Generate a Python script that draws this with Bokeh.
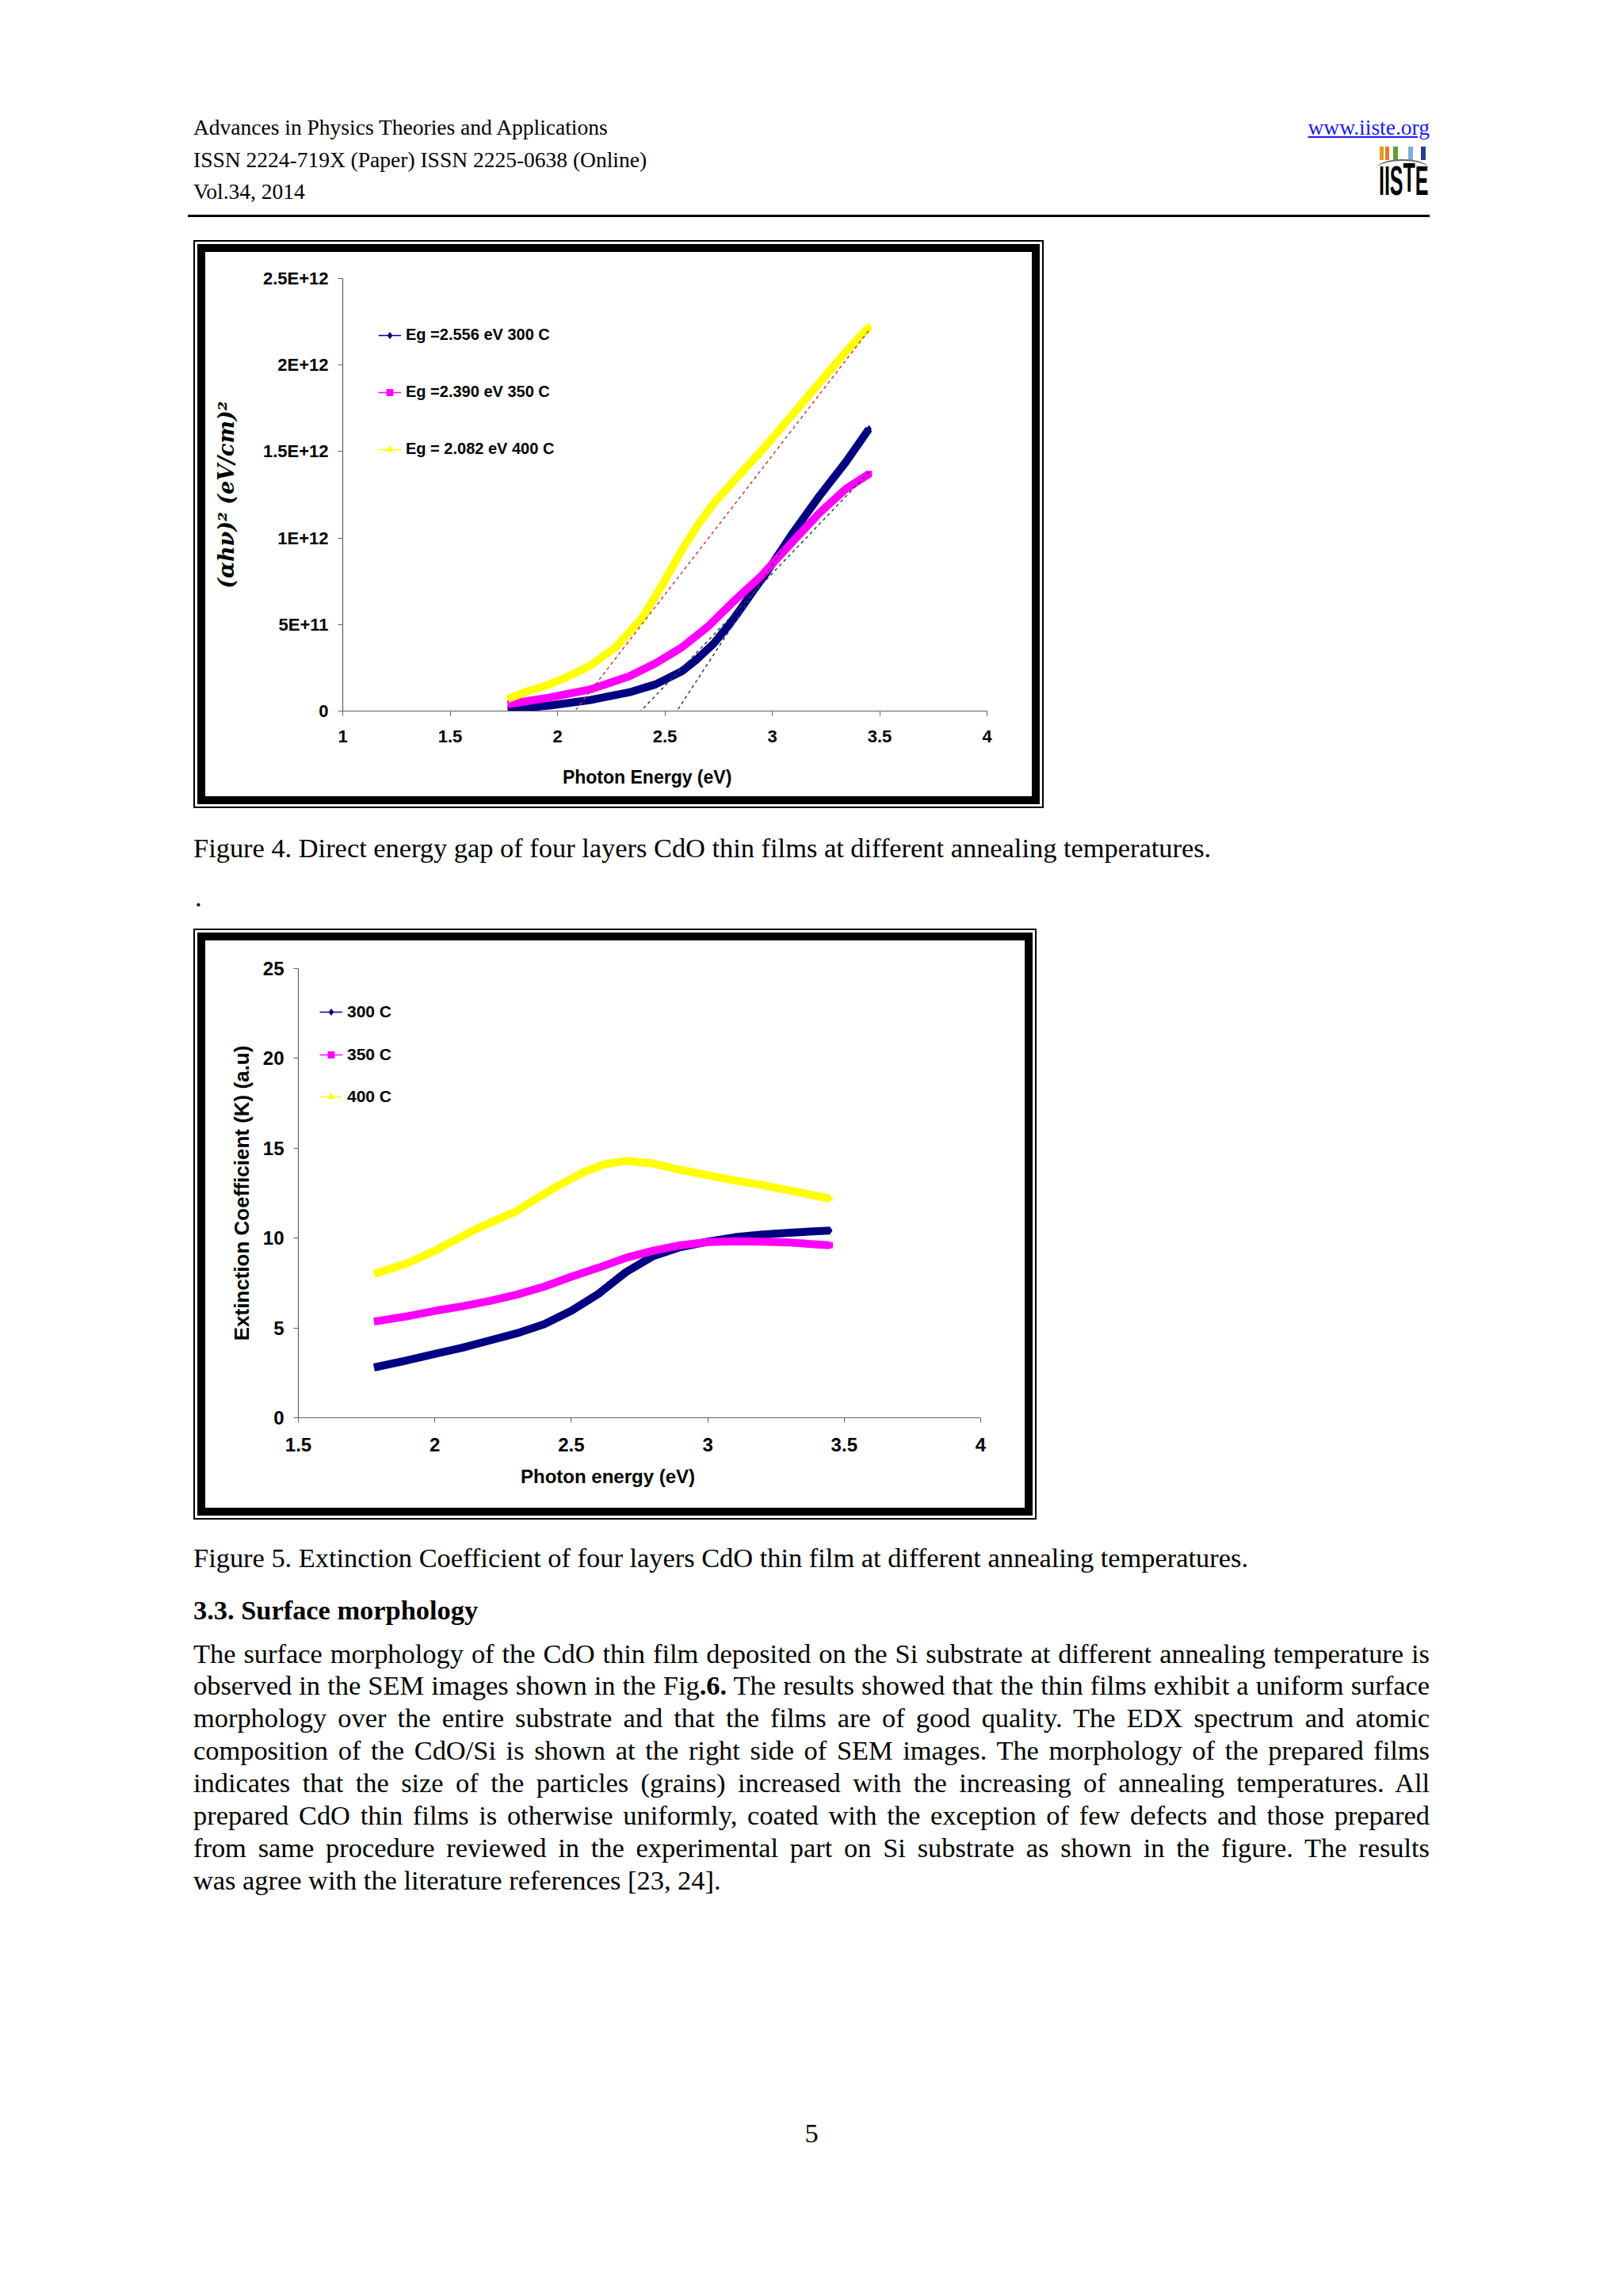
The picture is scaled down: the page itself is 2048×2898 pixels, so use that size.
from bokeh.plotting import figure
from bokeh.models import Div, Range1d, FixedTicker, Legend, LegendItem
from bokeh.embed import file_html
from bokeh.resources import INLINE

# ---------------- Figure 4 data: photon energy (eV) vs (alpha h nu)^2 in units of 1E+12 (eV/cm)^2
f4_x_300 = [1.768, 1.964, 2.149, 2.333, 2.456, 2.579, 2.65, 2.727, 2.80, 2.85, 2.92, 2.973, 3.096, 3.219, 3.342, 3.45]
f4_y_300 = [0.01, 0.032, 0.063, 0.108, 0.154, 0.23, 0.30, 0.39, 0.50, 0.585, 0.71, 0.80, 1.03, 1.242, 1.438, 1.63]
f4_x_350 = [1.768, 1.964, 2.149, 2.333, 2.456, 2.579, 2.702, 2.825, 2.948, 3.096, 3.219, 3.342, 3.45]
f4_y_350 = [0.04, 0.078, 0.124, 0.20, 0.276, 0.368, 0.49, 0.64, 0.78, 0.98, 1.144, 1.283, 1.37]
f4_x_400 = [1.768, 1.85, 1.964, 2.05, 2.149, 2.272, 2.395, 2.493, 2.579, 2.65, 2.727, 2.85, 2.973, 3.096, 3.219, 3.342, 3.45]
f4_y_400 = [0.07, 0.11, 0.155, 0.20, 0.26, 0.37, 0.54, 0.74, 0.93, 1.07, 1.20, 1.37, 1.537, 1.716, 1.896, 2.076, 2.22]
# linear extrapolation lines drawn in the figure (end points)
fit_x_300 = [2.545, 3.05]
fit_y_300 = [-0.02, 0.94]
fit_x_350 = [2.38, 3.45]
fit_y_350 = [-0.01, 1.38]
fit_x_400 = [2.05, 3.45]
fit_y_400 = [-0.05, 2.20]
f4_labels = ["Eg =2.556 eV 300 C", "Eg =2.390 eV 350 C", "Eg = 2.082 eV 400 C"]
f4_x_ticks = [1, 1.5, 2, 2.5, 3, 3.5, 4]
f4_y_ticks = [0, 0.5, 1.0, 1.5, 2.0, 2.5]
f4_y_tick_labels = ["0", "5E+11", "1E+12", "1.5E+12", "2E+12", "2.5E+12"]

# ---------------- Figure 5 data: photon energy (eV) vs extinction coefficient K
f5_x_300 = [1.777, 1.9, 2.0, 2.1, 2.2, 2.3, 2.4, 2.5, 2.6, 2.7, 2.8, 2.9, 3.0, 3.1, 3.2, 3.3, 3.447]
f5_y_300 = [2.8, 3.2, 3.55, 3.9, 4.3, 4.7, 5.2, 5.95, 6.9, 8.1, 9.0, 9.5, 9.8, 10.05, 10.2, 10.3, 10.42]
f5_x_350 = [1.777, 1.9, 2.0, 2.1, 2.2, 2.3, 2.4, 2.5, 2.6, 2.7, 2.8, 2.9, 3.0, 3.1, 3.2, 3.3, 3.447]
f5_y_350 = [5.35, 5.65, 5.95, 6.2, 6.5, 6.85, 7.3, 7.85, 8.35, 8.9, 9.3, 9.6, 9.78, 9.82, 9.8, 9.75, 9.6]
f5_x_400 = [1.777, 1.9, 2.0, 2.15, 2.3, 2.35, 2.45, 2.55, 2.62, 2.7, 2.8, 2.9, 3.0, 3.1, 3.2, 3.3, 3.447]
f5_y_400 = [8.0, 8.6, 9.3, 10.5, 11.5, 12.0, 12.9, 13.7, 14.1, 14.3, 14.15, 13.8, 13.5, 13.2, 12.95, 12.65, 12.2]
f5_labels = ["300 C", "350 C", "400 C"]
f5_x_ticks = [1.5, 2, 2.5, 3, 3.5, 4]
f5_y_ticks = [0, 5, 10, 15, 20, 25]

NAVY = "#000080"
MAGENTA = "#FF00FF"
YELLOW = "#FFFF00"
AXIS = "#606060"
SANS = "Liberation Sans"
SERIF = "Liberation Serif"

FRAME_STYLE = {"border": "10px solid black", "outline": "2px solid black", "outline-offset": "3px"}
MARKERS = [("diamond", 9), ("square", 7), ("triangle", 8)]


def style_axes(p, tick_size, title_size):
    for ax in (p.xaxis[0], p.yaxis[0]):
        ax.axis_line_color = AXIS
        ax.axis_line_width = 1.2
        ax.major_tick_line_color = AXIS
        ax.major_tick_out = 6
        ax.major_tick_in = 0
        ax.minor_tick_line_color = None
        ax.major_label_text_font = SANS
        ax.major_label_text_font_style = "bold"
        ax.major_label_text_font_size = tick_size
        ax.major_label_text_color = "black"
        ax.axis_label_text_font = SANS
        ax.axis_label_text_font_style = "bold"
        ax.axis_label_text_font_size = title_size
        ax.axis_label_text_color = "black"
    p.xgrid.visible = False
    p.ygrid.visible = False
    p.outline_line_color = None
    p.background_fill_color = "white"
    p.border_fill_color = "white"


def add_series(p, series, labels, x0, y_first, step, font_size):
    # series: list of (xs, ys, color); thin line + marker renderers serve as legend glyphs
    for i, ((xs, ys, col), lab) in enumerate(zip(series, labels)):
        mk, sz = MARKERS[i]
        ln = p.line(xs, ys, line_color=col, line_width=1.5)
        sc = p.scatter(xs[-1:], ys[-1:], marker=mk, size=sz, fill_color=col, line_color=col)
        lg = Legend(items=[LegendItem(label=lab, renderers=[ln, sc])],
                    location=(x0, y_first - i * step), orientation="vertical")
        lg.label_text_font = SANS
        lg.label_text_font_style = "bold"
        lg.label_text_font_size = font_size
        lg.label_text_color = "black"
        lg.glyph_width = 29
        lg.glyph_height = 20
        lg.label_height = 20
        lg.label_standoff = 6
        lg.padding = 0
        lg.margin = 0
        lg.border_line_color = None
        lg.background_fill_alpha = 0
        p.add_layout(lg)
    for xs, ys, col in series:
        p.line(xs, ys, line_color=col, line_width=10, line_join="round")


# ---------------- Figure 4 plot
p1 = figure(width=1063, height=707, output_backend="svg", toolbar_location=None,
            x_range=Range1d(1, 4), y_range=Range1d(0, 2.5),
            min_border_left=173, min_border_right=77, min_border_top=33, min_border_bottom=128)
style_axes(p1, "22px", "23px")
p1.xaxis.ticker = FixedTicker(ticks=f4_x_ticks)
p1.yaxis.ticker = FixedTicker(ticks=f4_y_ticks)
p1.yaxis.major_label_overrides = {t: s for t, s in zip(f4_y_ticks, f4_y_tick_labels)}
p1.xaxis.major_label_standoff = 18
p1.yaxis.major_label_standoff = 12
p1.xaxis.axis_label = "Photon Energy (eV)" + "\u00a0" * 7
p1.xaxis.axis_label_standoff = 28
p1.yaxis.axis_label = "(\u03b1h\u03bd)\u00b2 (eV/cm)\u00b2"
p1.yaxis.axis_label_text_font = "DejaVu Serif"
p1.yaxis.axis_label_text_font_style = "bold italic"
p1.yaxis.axis_label_text_font_size = "27px"
p1.yaxis.axis_label_standoff = 28

add_series(p1, [(f4_x_300, f4_y_300, NAVY), (f4_x_350, f4_y_350, MAGENTA), (f4_x_400, f4_y_400, YELLOW)],
           f4_labels, 45, 463, 72, "20px")
p1.line(fit_x_300, fit_y_300, line_color="#3a3a5a", line_width=1.5, line_dash="4 4")
p1.line(fit_x_350, fit_y_350, line_color="#3a3a5a", line_width=1.5, line_dash="4 4")
p1.line(fit_x_400, fit_y_400, line_color="#cc3a3a", line_width=1.5, line_dash="4 4")
p1.styles = FRAME_STYLE
p1.margin = (0, 0, 0, 249)

# ---------------- Figure 5 plot
p2 = figure(width=1054, height=736, output_backend="svg", toolbar_location=None,
            x_range=Range1d(1.5, 4), y_range=Range1d(0, 25),
            min_border_left=117, min_border_right=76, min_border_top=35, min_border_bottom=134)
style_axes(p2, "24px", "24px")
p2.xaxis.ticker = FixedTicker(ticks=f5_x_ticks)
p2.yaxis.ticker = FixedTicker(ticks=f5_y_ticks)
p2.xaxis.major_label_standoff = 19
p2.yaxis.major_label_standoff = 12
p2.xaxis.axis_label = "Photon energy (eV)" + "\u00a0" * 12
p2.xaxis.axis_label_standoff = 15
p2.yaxis.axis_label = "Extinction Coefficient (K) (a.u)"
p2.yaxis.axis_label_text_font_size = "26px"
p2.yaxis.axis_label_standoff = 9

add_series(p2, [(f5_x_300, f5_y_300, NAVY), (f5_x_350, f5_y_350, MAGENTA), (f5_x_400, f5_y_400, YELLOW)],
           f5_labels, 27, 500, 53.6, "21px")
p2.styles = FRAME_STYLE
p2.margin = (0, 0, 0, 249)

# ---------------- page texts
header_html = f"""
<div style="position:relative;width:2040px;height:308px;box-sizing:border-box;padding:141px 0 0 244px;font-family:'{SERIF}';font-size:27.5px;line-height:40.5px;color:#000;">
 <div style="width:1560px;display:flex;justify-content:space-between;white-space:nowrap;">
  <span>Advances in Physics Theories and Applications</span>
  <span style="color:#1a1aee;text-decoration:underline;">www.iiste.org</span>
 </div>
 <div style="white-space:nowrap;">ISSN 2224-719X (Paper) ISSN 2225-0638 (Online)</div>
 <div style="white-space:nowrap;">Vol.34, 2014</div>
 <div style="width:1567px;height:3.5px;background:#000;margin:8px 0 0 -7px;"></div>
 <div style="position:absolute;left:1741px;top:185px;width:5px;height:17px;background:#e89a1e;"></div>
 <div style="position:absolute;left:1748px;top:185px;width:5px;height:17px;background:#e07a2a;"></div>
 <div style="position:absolute;left:1758px;top:185px;width:6px;height:17px;background:#5f9e3c;"></div>
 <div style="position:absolute;left:1777px;top:185px;width:6px;height:17px;background:#7aaee0;"></div>
 <div style="position:absolute;left:1793px;top:185px;width:6px;height:17px;background:#2a3b8c;"></div>
 <div style="position:absolute;left:1737px;top:201px;width:66px;height:12px;box-sizing:border-box;border-top:2px solid #666;border-radius:50% 50% 0 0 / 100% 100% 0 0;"></div>
 <div style="position:absolute;left:1740px;top:203px;width:130px;font-family:'{SANS}';font-weight:bold;font-size:52px;line-height:50px;transform:scaleX(0.48);transform-origin:0 0;white-space:nowrap;">IIS<span style="position:relative;top:-4px;">T</span>E</div>
</div>
"""

mid_html = f"""
<div style="width:2040px;height:162px;box-sizing:border-box;padding:34.5px 0 0 244px;font-family:'{SERIF}';font-size:34.4px;line-height:41px;color:#000;">
 <div style="white-space:nowrap;">Figure 4. Direct energy gap of four layers CdO thin films at different annealing temperatures.</div>
 <div style="margin:21.5px 0 0 2px;">.</div>
</div>
"""

body_lines = [
    "The surface morphology of the CdO thin film deposited on the Si substrate at different annealing temperature is",
    "observed in the SEM images shown in the Fig<b>.6.</b> The results showed that the thin films exhibit a uniform surface",
    "morphology over the entire substrate and that the films are of good quality. The EDX spectrum and atomic",
    "composition of the CdO/Si is shown at the right side of SEM images. The morphology of the prepared films",
    "indicates that the size of the particles (grains) increased with the increasing of annealing temperatures. All",
    "prepared CdO thin films is otherwise uniformly, coated with the exception of few defects and those prepared",
    "from same procedure reviewed in the experimental part on Si substrate as shown in the figure. The results",
    "was agree with the literature references [23, 24].",
]
lines_html = ""
for i, ln in enumerate(body_lines):
    if i == len(body_lines) - 1:
        lines_html += f'<div style="width:1560px;height:40.9px;white-space:nowrap;">{ln}</div>'
    else:
        lines_html += (f'<div style="width:1560px;height:40.9px;text-align:justify;'
                       f'text-align-last:justify;">{ln}</div>')

bottom_html = f"""
<div style="width:2040px;height:977px;box-sizing:border-box;padding:32.5px 0 0 244px;font-family:'{SERIF}';font-size:34.4px;line-height:41px;color:#000;">
 <div style="white-space:nowrap;">Figure 5. Extinction Coefficient of four layers CdO thin film at different annealing temperatures.</div>
 <div style="white-space:nowrap;font-weight:bold;margin-top:25px;">3.3. Surface morphology</div>
 <div style="margin-top:14px;line-height:40.9px;">{lines_html}</div>
 <div style="width:1560px;text-align:center;margin-top:278.8px;">5</div>
</div>
"""

d_header = Div(text=header_html, width=2040, height=308, margin=0)
d_mid = Div(text=mid_html, width=2040, height=162, margin=0)
d_bottom = Div(text=bottom_html, width=2040, height=977, margin=0)

open("out.html", "w").write(file_html([d_header, p1, d_mid, p2, d_bottom], INLINE, title="Page 5"))
